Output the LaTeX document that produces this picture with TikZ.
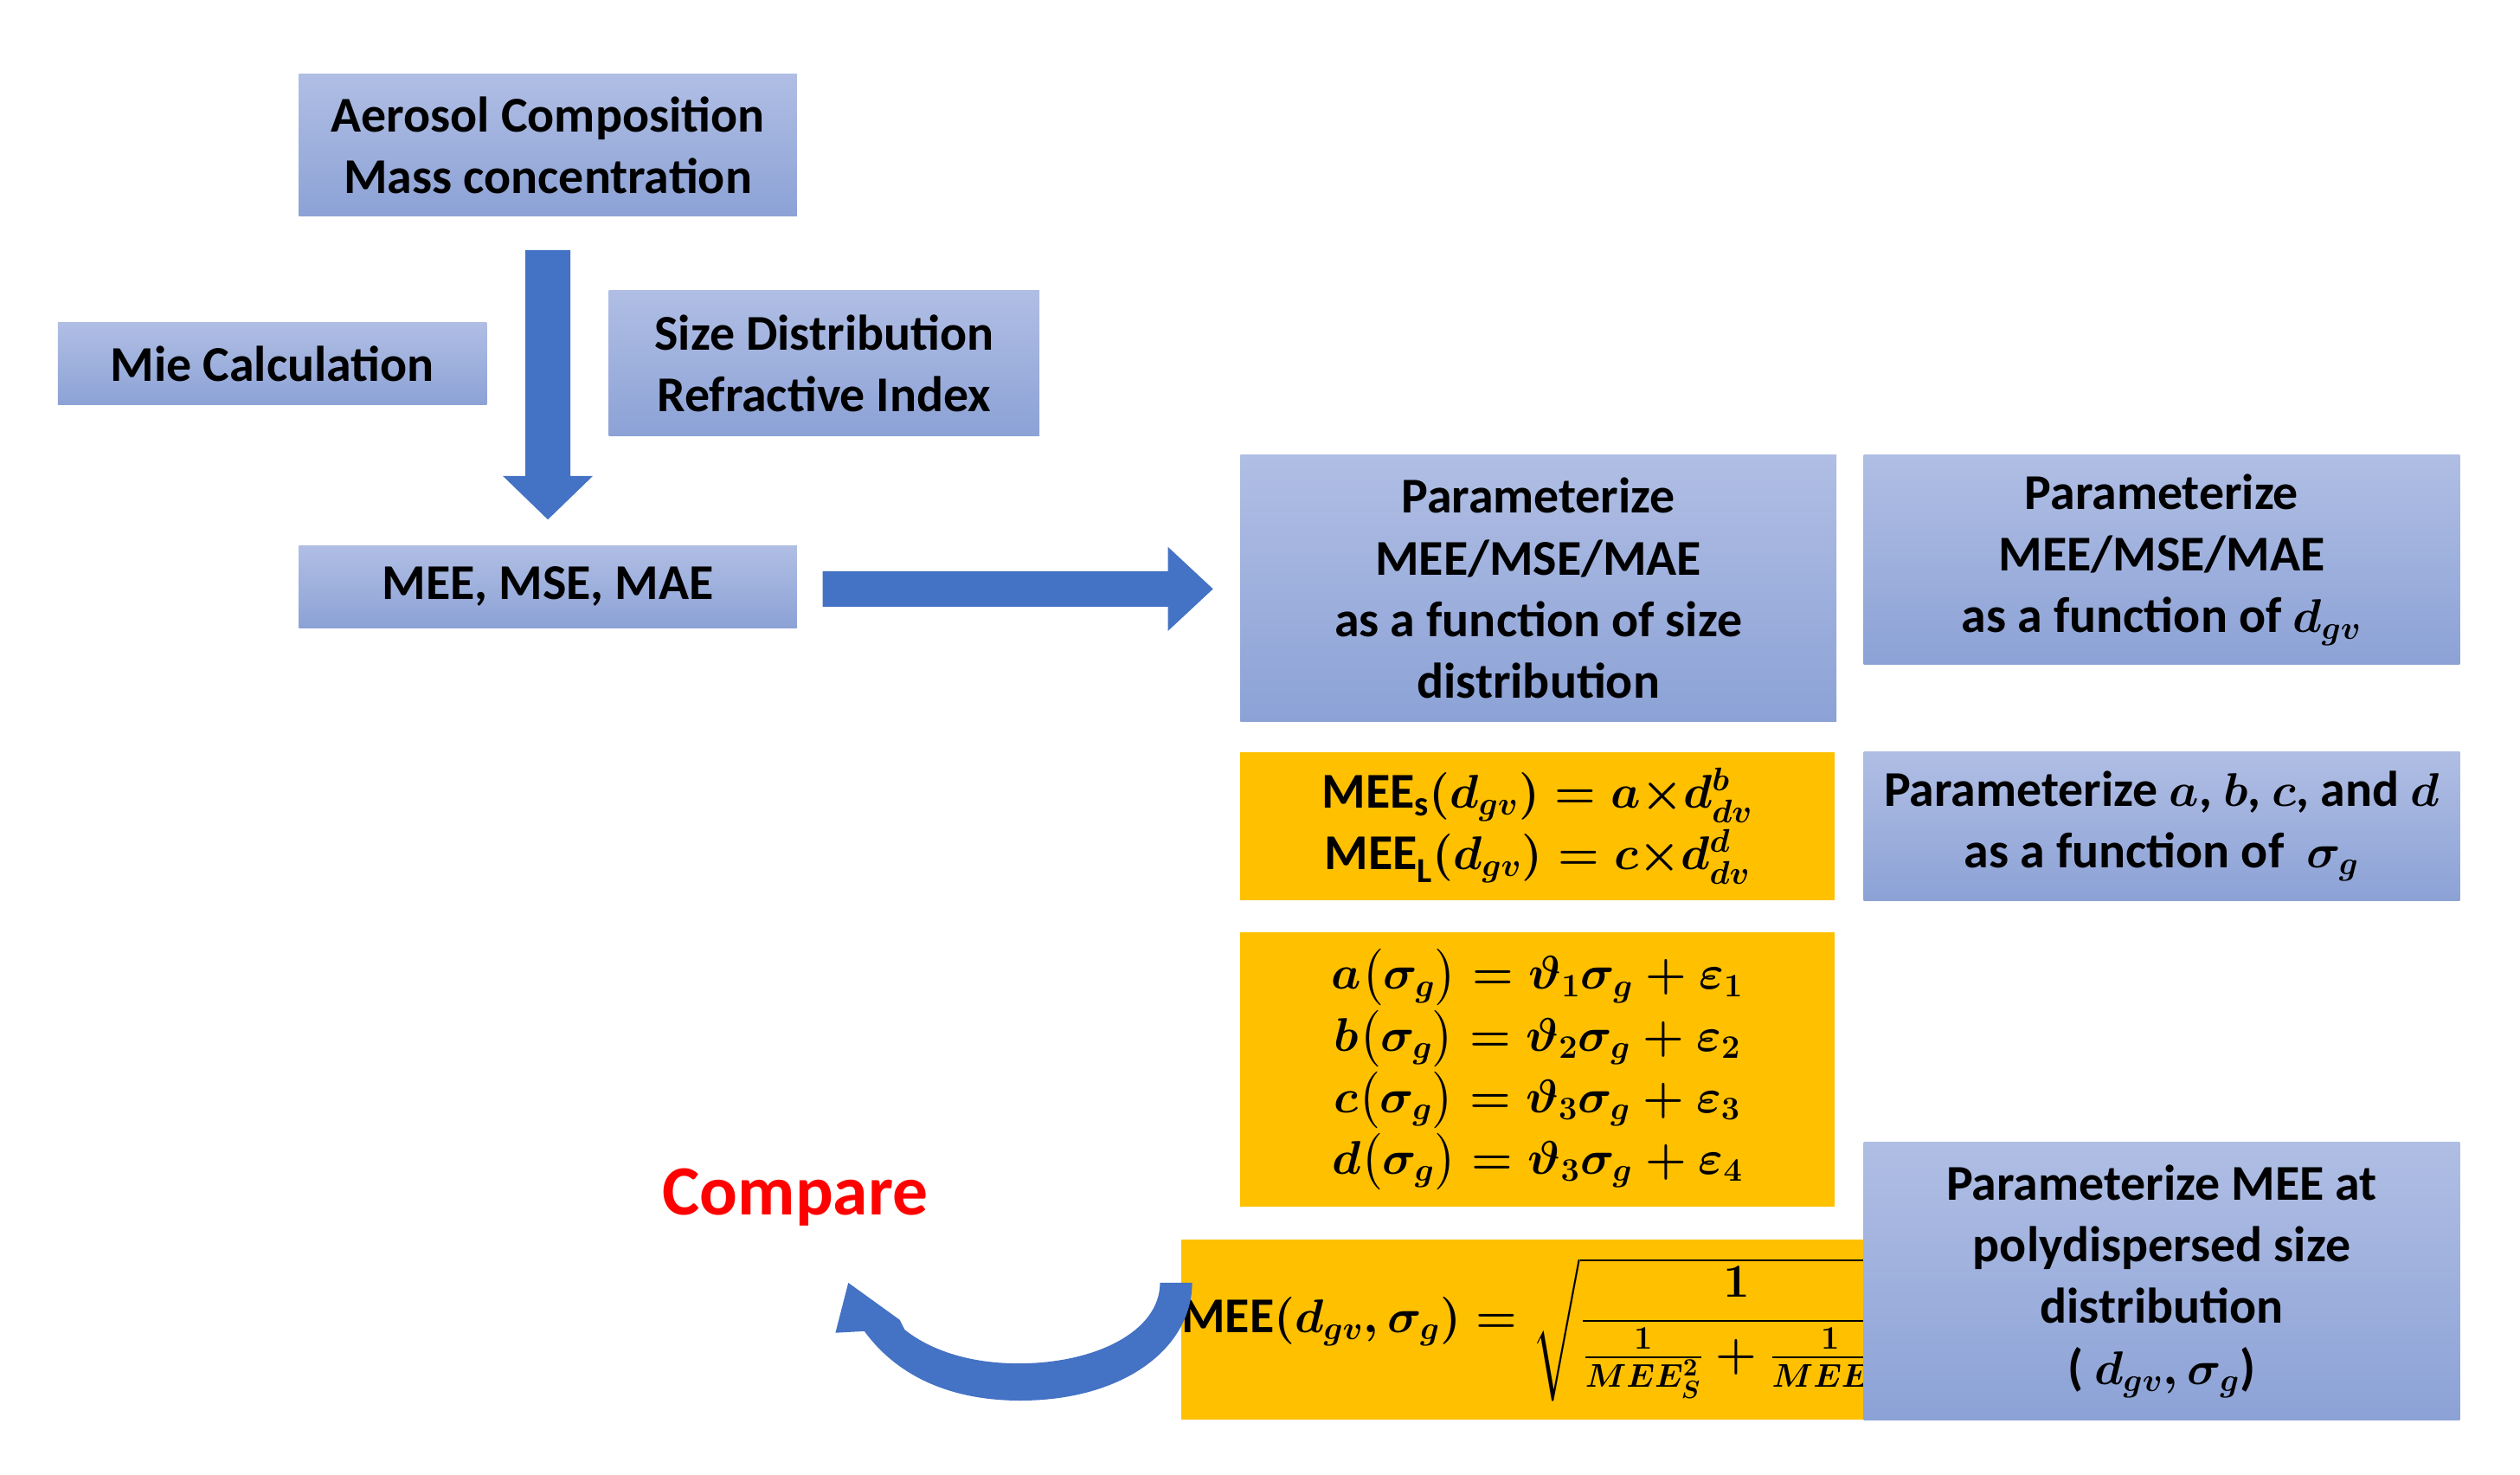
\documentclass[tikz,border=0pt]{standalone}
\usepackage{amsmath}
\usepackage{graphicx}
\usepackage{fontspec}
\setmainfont{Carlito}
\newcommand\mth[1]{\scalebox{2}{\fontsize{22}{26}\selectfont\boldmath$#1$}}
\begin{document}
\begin{tikzpicture}[x=0.496mm,y=-0.498mm,
 box/.style={draw=none,top color=blueA,bottom color=blueB,align=center,inner sep=0pt,
   font=\fontsize{44}{54}\selectfont\bfseries,text=black},
 ybox/.style={fill=gold,align=center,inner sep=0pt,
   font=\fontsize{44}{54}\selectfont\bfseries,text=black},
 fat/.style={fill=arrowblue,draw=none}]
\definecolor{blueA}{RGB}{176,190,228}
\definecolor{blueB}{RGB}{140,162,214}
\definecolor{gold}{RGB}{255,192,0}
\definecolor{arrowblue}{RGB}{68,114,196}
\useasboundingbox (0,0) rectangle (1568.5,913.7);
\fill[white] (0,0) rectangle (1568.5,913.7);

\node[box,minimum width=153.7mm,minimum height=43.8mm] (aero) at (341,90) {Aerosol Composition\\Mass concentration};
\node[box,minimum width=132.4mm,minimum height=25.4mm] (mie) at (169.5,225.5) {Mie Calculation};
\node[box,minimum width=132.9mm,minimum height=44.8mm] (size) at (513,225) {Size Distribution\\Refractive Index};
\node[box,minimum width=153.7mm,minimum height=25.4mm] (mee) at (341,363.5) {MEE, MSE, MAE};
\node[box,minimum width=184mm,minimum height=82.2mm] (p1) at (957.5,364.5) {Parameterize\\MEE/MSE/MAE\\as a function of size\\distribution};
\node[box,minimum width=184mm,minimum height=64.7mm] (p2) at (1345.5,347) {Parameterize\\MEE/MSE/MAE\\as a function of \mth{d_{gv}}};
\node[ybox,minimum width=183.5mm,minimum height=45.8mm] (y1) at (957,512)
 {MEE\textsubscript{s}\mth{(d_{gv}) = a{\times}d_{dv}^{b}}\\MEE\textsubscript{L}\mth{(d_{gv}) = c{\times}d_{dv}^{d}}};
\node[box,minimum width=184mm,minimum height=45.8mm] (pabcd) at (1345.5,512) {Parameterize \mth{a}, \mth{b}, \mth{c}, and \mth{d}\\as a function of \ \mth{\sigma_g}};
\node[ybox,minimum width=183.5mm,minimum height=84.7mm] (y2) at (957,663)
 {\mth{a\big(\sigma_g\big) = \vartheta_1\sigma_g + \varepsilon_1}\\
  \mth{b\big(\sigma_g\big) = \vartheta_2\sigma_g + \varepsilon_2}\\
  \mth{c\big(\sigma_g\big) = \vartheta_3\sigma_g + \varepsilon_3}\\
  \mth{d\big(\sigma_g\big) = \vartheta_3\sigma_g + \varepsilon_4}};
\node[ybox,minimum width=183.5mm,minimum height=55.8mm] (y3) at (957,824)
 {MEE\mth{(d_{gv},\sigma_g) = \sqrt{\dfrac{1}{\frac{1}{MEE_S^2}+\frac{1}{MEE_L^2}}}}};
\node[box,minimum width=184mm,minimum height=85.7mm] (ppoly) at (1345.5,794) {Parameterize MEE at\\polydispersed size\\distribution\\( \mth{d_{gv},\sigma_g})};
\node[text=red,font=\fontsize{62}{70}\selectfont\bfseries] (cmp) at (495,742) {Compare};

% down arrow
\fill[fat] (327,155) -- (355,155) -- (355,295) -- (369,295) -- (341,322) -- (313,295) -- (327,295) -- cycle;
% right arrow
\fill[fat] (512,354) -- (727,354) -- (727,339) -- (755,365) -- (727,391) -- (727,376) -- (512,376) -- cycle;
% curved arrow
\fill[fat] (742,795) -- (722,795) .. controls (722,825) and (682,845) .. (634,845)
  .. controls (602,845) and (578,836) .. (563,824) -- (560,818) -- (528,795) -- (520,826) -- (538,825)
  .. controls (560,855) and (595,868) .. (635,868) .. controls (700,868) and (742,835) .. (742,795) -- cycle;
\end{tikzpicture}
\end{document}
